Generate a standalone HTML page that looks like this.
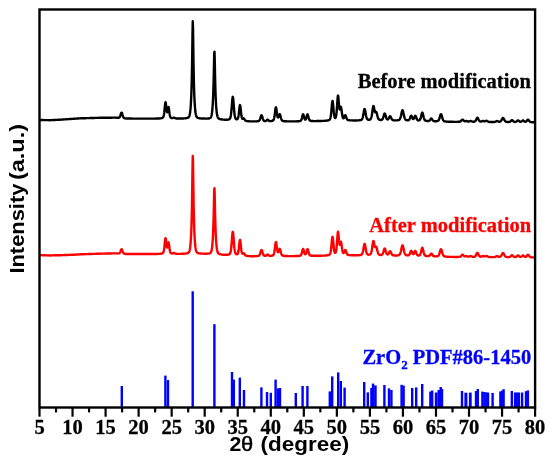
<!DOCTYPE html>
<html><head><meta charset="utf-8"><title>XRD</title>
<style>
html,body{margin:0;padding:0;background:#fff}
svg{display:block}
.tk{font-family:"Liberation Serif",serif;font-weight:bold;font-size:20.5px;stroke:#000;stroke-width:0.3px}
.lb{font-family:"Liberation Serif",serif;font-weight:bold;font-size:20.5px;stroke-width:0.3px}
.ax{font-family:"Liberation Sans",sans-serif;font-weight:bold}
</style></head><body>
<svg width="550" height="462" viewBox="0 0 550 462">
<rect width="550" height="462" fill="#fff"/>
<rect x="120.60" y="386.00" width="2.4" height="21.50" fill="#0000ff"/>
<rect x="164.20" y="375.60" width="2.4" height="31.90" fill="#0000ff"/>
<rect x="166.80" y="380.10" width="2.4" height="27.40" fill="#0000ff"/>
<rect x="191.50" y="291.30" width="2.4" height="116.20" fill="#0000ff"/>
<rect x="213.20" y="324.20" width="2.4" height="83.30" fill="#0000ff"/>
<rect x="230.80" y="372.00" width="2.4" height="35.50" fill="#0000ff"/>
<rect x="232.60" y="379.60" width="2.4" height="27.90" fill="#0000ff"/>
<rect x="238.60" y="377.60" width="2.4" height="29.90" fill="#0000ff"/>
<rect x="242.80" y="390.00" width="2.4" height="17.50" fill="#0000ff"/>
<rect x="260.20" y="387.40" width="2.4" height="20.10" fill="#0000ff"/>
<rect x="265.80" y="392.00" width="2.4" height="15.50" fill="#0000ff"/>
<rect x="269.60" y="392.80" width="2.4" height="14.70" fill="#0000ff"/>
<rect x="274.40" y="379.60" width="2.4" height="27.90" fill="#0000ff"/>
<rect x="276.80" y="388.40" width="2.4" height="19.10" fill="#0000ff"/>
<rect x="278.80" y="388.00" width="2.4" height="19.50" fill="#0000ff"/>
<rect x="294.60" y="393.00" width="2.4" height="14.50" fill="#0000ff"/>
<rect x="301.40" y="386.00" width="2.4" height="21.50" fill="#0000ff"/>
<rect x="306.20" y="386.00" width="2.4" height="21.50" fill="#0000ff"/>
<rect x="328.60" y="391.40" width="2.4" height="16.10" fill="#0000ff"/>
<rect x="331.00" y="376.40" width="2.4" height="31.10" fill="#0000ff"/>
<rect x="337.00" y="372.40" width="2.4" height="35.10" fill="#0000ff"/>
<rect x="339.60" y="381.00" width="2.4" height="26.50" fill="#0000ff"/>
<rect x="343.40" y="387.60" width="2.4" height="19.90" fill="#0000ff"/>
<rect x="363.00" y="382.00" width="2.4" height="25.50" fill="#0000ff"/>
<rect x="366.60" y="392.40" width="2.4" height="15.10" fill="#0000ff"/>
<rect x="370.20" y="388.00" width="2.4" height="19.50" fill="#0000ff"/>
<rect x="371.80" y="383.60" width="2.4" height="23.90" fill="#0000ff"/>
<rect x="374.10" y="385.40" width="2.6" height="22.10" fill="#0000ff"/>
<rect x="383.20" y="385.00" width="2.4" height="22.50" fill="#0000ff"/>
<rect x="387.80" y="388.40" width="2.4" height="19.10" fill="#0000ff"/>
<rect x="390.20" y="390.00" width="2.4" height="17.50" fill="#0000ff"/>
<rect x="400.40" y="384.80" width="2.4" height="22.70" fill="#0000ff"/>
<rect x="402.40" y="385.60" width="2.4" height="21.90" fill="#0000ff"/>
<rect x="411.00" y="388.00" width="2.4" height="19.50" fill="#0000ff"/>
<rect x="415.00" y="387.40" width="2.4" height="20.10" fill="#0000ff"/>
<rect x="421.00" y="384.00" width="2.4" height="23.50" fill="#0000ff"/>
<rect x="429.20" y="391.50" width="2.4" height="16.00" fill="#0000ff"/>
<rect x="431.00" y="390.60" width="2.4" height="16.90" fill="#0000ff"/>
<rect x="434.80" y="392.50" width="2.8" height="15.00" fill="#0000ff"/>
<rect x="437.50" y="390.00" width="2.6" height="17.50" fill="#0000ff"/>
<rect x="439.50" y="387.00" width="2.4" height="20.50" fill="#0000ff"/>
<rect x="441.20" y="389.00" width="2.0" height="18.50" fill="#0000ff"/>
<rect x="460.80" y="391.00" width="2.4" height="16.50" fill="#0000ff"/>
<rect x="464.40" y="392.70" width="3.0" height="14.80" fill="#0000ff"/>
<rect x="468.90" y="392.60" width="2.8" height="14.90" fill="#0000ff"/>
<rect x="474.80" y="391.00" width="2.4" height="16.50" fill="#0000ff"/>
<rect x="476.60" y="389.00" width="2.4" height="18.50" fill="#0000ff"/>
<rect x="481.20" y="391.60" width="2.4" height="15.90" fill="#0000ff"/>
<rect x="483.20" y="392.00" width="2.4" height="15.50" fill="#0000ff"/>
<rect x="485.20" y="392.40" width="2.4" height="15.10" fill="#0000ff"/>
<rect x="486.80" y="392.60" width="2.4" height="14.90" fill="#0000ff"/>
<rect x="491.40" y="393.00" width="2.4" height="14.50" fill="#0000ff"/>
<rect x="499.20" y="391.40" width="2.4" height="16.10" fill="#0000ff"/>
<rect x="501.00" y="390.60" width="2.4" height="16.90" fill="#0000ff"/>
<rect x="502.40" y="389.20" width="2.4" height="18.30" fill="#0000ff"/>
<rect x="510.60" y="391.00" width="2.4" height="16.50" fill="#0000ff"/>
<rect x="513.90" y="392.50" width="2.4" height="15.00" fill="#0000ff"/>
<rect x="515.80" y="392.50" width="2.4" height="15.00" fill="#0000ff"/>
<rect x="517.70" y="392.50" width="2.4" height="15.00" fill="#0000ff"/>
<rect x="520.90" y="392.50" width="2.4" height="15.00" fill="#0000ff"/>
<rect x="524.80" y="391.20" width="2.4" height="16.30" fill="#0000ff"/>
<rect x="526.70" y="390.40" width="2.4" height="17.10" fill="#0000ff"/>
<path d="M39.50,120.00 L39.75,120.00 L40.00,120.00 L40.25,120.01 L40.50,120.01 L40.75,120.02 L41.00,120.02 L41.25,120.03 L41.50,120.03 L41.75,120.04 L42.00,120.04 L42.25,120.05 L42.50,120.05 L42.75,120.06 L43.00,120.06 L43.25,120.07 L43.50,120.07 L43.75,120.08 L44.00,120.08 L44.25,120.09 L44.50,120.09 L44.75,120.10 L45.00,120.10 L45.25,120.10 L45.50,120.11 L45.75,120.11 L46.00,120.12 L46.25,120.12 L46.50,120.13 L46.75,120.13 L47.00,120.14 L47.25,120.14 L47.50,120.15 L47.75,120.15 L48.00,120.16 L48.25,120.16 L48.50,120.17 L48.75,120.17 L49.00,120.18 L49.25,120.18 L49.50,120.19 L49.75,120.19 L50.00,120.19 L50.25,120.18 L50.50,120.17 L50.75,120.16 L51.00,120.14 L51.25,120.13 L51.50,120.12 L51.75,120.11 L52.00,120.09 L52.25,120.08 L52.50,120.07 L52.75,120.06 L53.00,120.04 L53.25,120.03 L53.50,120.02 L53.75,120.01 L54.00,119.99 L54.25,119.98 L54.50,119.97 L54.75,119.96 L55.00,119.94 L55.25,119.93 L55.50,119.92 L55.75,119.91 L56.00,119.89 L56.25,119.88 L56.50,119.87 L56.75,119.86 L57.00,119.84 L57.25,119.83 L57.50,119.82 L57.75,119.81 L58.00,119.79 L58.25,119.78 L58.50,119.77 L58.75,119.76 L59.00,119.74 L59.25,119.73 L59.50,119.72 L59.75,119.71 L60.00,119.69 L60.25,119.68 L60.50,119.66 L60.75,119.64 L61.00,119.63 L61.25,119.61 L61.50,119.59 L61.75,119.58 L62.00,119.56 L62.25,119.54 L62.50,119.52 L62.75,119.51 L63.00,119.49 L63.25,119.47 L63.50,119.46 L63.75,119.44 L64.00,119.42 L64.25,119.41 L64.50,119.39 L64.75,119.37 L65.00,119.36 L65.25,119.34 L65.50,119.32 L65.75,119.31 L66.00,119.29 L66.25,119.27 L66.50,119.25 L66.75,119.24 L67.00,119.22 L67.25,119.20 L67.50,119.19 L67.75,119.17 L68.00,119.15 L68.25,119.14 L68.50,119.12 L68.75,119.10 L69.00,119.09 L69.25,119.07 L69.50,119.05 L69.75,119.03 L70.00,119.02 L70.25,119.00 L70.50,118.98 L70.75,118.97 L71.00,118.95 L71.25,118.93 L71.50,118.92 L71.75,118.90 L72.00,118.88 L72.25,118.87 L72.50,118.85 L72.75,118.83 L73.00,118.81 L73.25,118.80 L73.50,118.78 L73.75,118.76 L74.00,118.75 L74.25,118.73 L74.50,118.71 L74.75,118.70 L75.00,118.68 L75.25,118.66 L75.50,118.65 L75.75,118.63 L76.00,118.61 L76.25,118.59 L76.50,118.58 L76.75,118.56 L77.00,118.54 L77.25,118.53 L77.50,118.51 L77.75,118.49 L78.00,118.48 L78.25,118.46 L78.50,118.44 L78.75,118.43 L79.00,118.41 L79.25,118.39 L79.50,118.38 L79.75,118.36 L80.00,118.34 L80.25,118.33 L80.50,118.33 L80.75,118.32 L81.00,118.31 L81.25,118.31 L81.50,118.30 L81.75,118.29 L82.00,118.29 L82.25,118.28 L82.50,118.27 L82.75,118.27 L83.00,118.26 L83.25,118.25 L83.50,118.24 L83.75,118.24 L84.00,118.23 L84.25,118.22 L84.50,118.22 L84.75,118.21 L85.00,118.20 L85.25,118.20 L85.50,118.19 L85.75,118.18 L86.00,118.17 L86.25,118.17 L86.50,118.16 L86.75,118.15 L87.00,118.15 L87.25,118.14 L87.50,118.13 L87.75,118.13 L88.00,118.12 L88.25,118.11 L88.50,118.11 L88.75,118.10 L89.00,118.09 L89.25,118.08 L89.50,118.08 L89.75,118.07 L90.00,118.06 L90.25,118.06 L90.50,118.05 L90.75,118.04 L91.00,118.04 L91.25,118.03 L91.50,118.02 L91.75,118.01 L92.00,118.01 L92.25,118.00 L92.50,117.99 L92.75,117.99 L93.00,117.98 L93.25,117.97 L93.50,117.97 L93.75,117.96 L94.00,117.95 L94.25,117.95 L94.50,117.94 L94.75,117.93 L95.00,117.92 L95.25,117.92 L95.50,117.91 L95.75,117.90 L96.00,117.90 L96.25,117.89 L96.50,117.88 L96.75,117.88 L97.00,117.87 L97.25,117.86 L97.50,117.85 L97.75,117.85 L98.00,117.84 L98.25,117.83 L98.50,117.83 L98.75,117.82 L99.00,117.81 L99.25,117.80 L99.50,117.80 L99.75,117.79 L100.00,117.78 L100.25,117.78 L100.50,117.78 L100.75,117.78 L101.00,117.78 L101.25,117.77 L101.50,117.77 L101.75,117.77 L102.00,117.77 L102.25,117.77 L102.50,117.76 L102.75,117.76 L103.00,117.76 L103.25,117.76 L103.50,117.76 L103.75,117.76 L104.00,117.75 L104.25,117.75 L104.50,117.75 L104.75,117.75 L105.00,117.75 L105.25,117.74 L105.50,117.74 L105.75,117.74 L106.00,117.74 L106.25,117.73 L106.50,117.73 L106.75,117.73 L107.00,117.73 L107.25,117.73 L107.50,117.72 L107.75,117.72 L108.00,117.72 L108.25,117.72 L108.50,117.71 L108.75,117.71 L109.00,117.71 L109.25,117.71 L109.50,117.70 L109.75,117.70 L110.00,117.70 L110.25,117.70 L110.50,117.69 L110.75,117.69 L111.00,117.69 L111.25,117.69 L111.50,117.68 L111.75,117.68 L112.00,117.68 L112.25,117.67 L112.50,117.67 L112.75,117.67 L113.00,117.66 L113.25,117.66 L113.50,117.65 L113.75,117.65 L114.00,117.64 L114.25,117.64 L114.50,117.63 L114.75,117.63 L115.00,117.62 L115.25,117.64 L115.50,117.66 L115.75,117.67 L116.00,117.69 L116.25,117.70 L116.50,117.72 L116.75,117.73 L117.00,117.74 L117.25,117.75 L117.50,117.75 L117.75,117.75 L118.00,117.75 L118.25,117.74 L118.50,117.72 L118.75,117.68 L119.00,117.61 L119.25,117.49 L119.50,117.29 L119.75,116.99 L120.00,116.56 L120.25,115.98 L120.50,115.27 L120.75,114.47 L121.00,113.65 L121.25,112.97 L121.50,112.61 L121.75,112.67 L122.00,113.16 L122.25,113.93 L122.50,114.79 L122.75,115.63 L123.00,116.36 L123.25,116.95 L123.50,117.40 L123.75,117.72 L124.00,117.95 L124.25,118.10 L124.50,118.21 L124.75,118.29 L125.00,118.35 L125.25,118.38 L125.50,118.41 L125.75,118.43 L126.00,118.45 L126.25,118.46 L126.50,118.47 L126.75,118.48 L127.00,118.49 L127.25,118.50 L127.50,118.51 L127.75,118.52 L128.00,118.52 L128.25,118.53 L128.50,118.53 L128.75,118.54 L129.00,118.54 L129.25,118.54 L129.50,118.55 L129.75,118.55 L130.00,118.55 L130.25,118.56 L130.50,118.56 L130.75,118.56 L131.00,118.57 L131.25,118.57 L131.50,118.57 L131.75,118.57 L132.00,118.57 L132.25,118.58 L132.50,118.58 L132.75,118.58 L133.00,118.58 L133.25,118.58 L133.50,118.58 L133.75,118.58 L134.00,118.59 L134.25,118.59 L134.50,118.59 L134.75,118.59 L135.00,118.59 L135.25,118.59 L135.50,118.59 L135.75,118.59 L136.00,118.60 L136.25,118.60 L136.50,118.60 L136.75,118.60 L137.00,118.60 L137.25,118.60 L137.50,118.60 L137.75,118.60 L138.00,118.60 L138.25,118.60 L138.50,118.60 L138.75,118.60 L139.00,118.61 L139.25,118.61 L139.50,118.61 L139.75,118.61 L140.00,118.61 L140.25,118.61 L140.50,118.61 L140.75,118.61 L141.00,118.61 L141.25,118.61 L141.50,118.61 L141.75,118.61 L142.00,118.61 L142.25,118.61 L142.50,118.61 L142.75,118.61 L143.00,118.61 L143.25,118.61 L143.50,118.61 L143.75,118.62 L144.00,118.62 L144.25,118.62 L144.50,118.62 L144.75,118.62 L145.00,118.62 L145.25,118.62 L145.50,118.62 L145.75,118.62 L146.00,118.62 L146.25,118.62 L146.50,118.62 L146.75,118.62 L147.00,118.62 L147.25,118.62 L147.50,118.62 L147.75,118.62 L148.00,118.62 L148.25,118.62 L148.50,118.62 L148.75,118.62 L149.00,118.62 L149.25,118.62 L149.50,118.62 L149.75,118.62 L150.00,118.61 L150.25,118.61 L150.50,118.61 L150.75,118.61 L151.00,118.61 L151.25,118.61 L151.50,118.61 L151.75,118.61 L152.00,118.61 L152.25,118.61 L152.50,118.61 L152.75,118.60 L153.00,118.60 L153.25,118.60 L153.50,118.60 L153.75,118.60 L154.00,118.59 L154.25,118.59 L154.50,118.59 L154.75,118.59 L155.00,118.58 L155.25,118.58 L155.50,118.58 L155.75,118.57 L156.00,118.57 L156.25,118.56 L156.50,118.56 L156.75,118.55 L157.00,118.55 L157.25,118.54 L157.50,118.53 L157.75,118.53 L158.00,118.52 L158.25,118.51 L158.50,118.50 L158.75,118.49 L159.00,118.47 L159.25,118.46 L159.50,118.44 L159.75,118.42 L160.00,118.40 L160.25,118.38 L160.50,118.35 L160.75,118.32 L161.00,118.29 L161.25,118.25 L161.50,118.20 L161.75,118.14 L162.00,118.07 L162.25,117.98 L162.50,117.87 L162.75,117.70 L163.00,117.46 L163.25,117.07 L163.50,116.47 L163.75,115.55 L164.00,114.22 L164.25,112.40 L164.50,110.14 L164.75,107.57 L165.00,105.04 L165.25,103.07 L165.50,102.27 L165.75,102.93 L166.00,104.73 L166.25,107.04 L166.50,109.27 L166.75,111.00 L167.00,111.99 L167.25,112.15 L167.50,111.50 L167.75,110.23 L168.00,108.70 L168.25,107.41 L168.50,106.97 L168.75,107.67 L169.00,109.28 L169.25,111.24 L169.50,113.14 L169.75,114.74 L170.00,115.93 L170.25,116.76 L170.50,117.29 L170.75,117.62 L171.00,117.82 L171.25,117.95 L171.50,118.03 L171.75,118.08 L172.00,118.10 L172.25,118.10 L172.50,118.07 L172.75,118.02 L173.00,117.93 L173.25,117.83 L173.50,117.74 L173.75,117.67 L174.00,117.65 L174.25,117.70 L174.50,117.80 L174.75,117.93 L175.00,118.06 L175.25,118.18 L175.50,118.28 L175.75,118.36 L176.00,118.41 L176.25,118.45 L176.50,118.47 L176.75,118.49 L177.00,118.50 L177.25,118.51 L177.50,118.52 L177.75,118.52 L178.00,118.53 L178.25,118.53 L178.50,118.53 L178.75,118.53 L179.00,118.53 L179.25,118.53 L179.50,118.53 L179.75,118.53 L180.00,118.53 L180.25,118.53 L180.50,118.52 L180.75,118.52 L181.00,118.51 L181.25,118.51 L181.50,118.50 L181.75,118.50 L182.00,118.49 L182.25,118.48 L182.50,118.47 L182.75,118.46 L183.00,118.45 L183.25,118.44 L183.50,118.43 L183.75,118.41 L184.00,118.40 L184.25,118.38 L184.50,118.36 L184.75,118.34 L185.00,118.32 L185.25,118.29 L185.50,118.26 L185.75,118.23 L186.00,118.20 L186.25,118.16 L186.50,118.12 L186.75,118.07 L187.00,118.01 L187.25,117.94 L187.50,117.87 L187.75,117.78 L188.00,117.66 L188.25,117.52 L188.50,117.34 L188.75,117.09 L189.00,116.75 L189.25,116.26 L189.50,115.57 L189.75,114.60 L190.00,113.23 L190.25,111.37 L190.50,108.89 L190.75,105.67 L191.00,101.55 L191.25,96.33 L191.50,89.60 L191.75,80.65 L192.00,68.47 L192.25,52.22 L192.50,33.45 L192.75,21.21 L193.00,26.96 L193.25,44.74 L193.50,62.48 L193.75,76.24 L194.00,86.35 L194.25,93.87 L194.50,99.63 L194.75,104.16 L195.00,107.73 L195.25,110.49 L195.50,112.59 L195.75,114.14 L196.00,115.26 L196.25,116.06 L196.50,116.62 L196.75,117.02 L197.00,117.30 L197.25,117.51 L197.50,117.67 L197.75,117.80 L198.00,117.90 L198.25,117.98 L198.50,118.05 L198.75,118.12 L199.00,118.17 L199.25,118.22 L199.50,118.26 L199.75,118.30 L200.00,118.34 L200.25,118.37 L200.50,118.39 L200.75,118.42 L201.00,118.44 L201.25,118.46 L201.50,118.48 L201.75,118.49 L202.00,118.51 L202.25,118.52 L202.50,118.53 L202.75,118.54 L203.00,118.55 L203.25,118.55 L203.50,118.56 L203.75,118.56 L204.00,118.56 L204.25,118.57 L204.50,118.57 L204.75,118.57 L205.00,118.56 L205.25,118.57 L205.50,118.58 L205.75,118.58 L206.00,118.59 L206.25,118.59 L206.50,118.59 L206.75,118.59 L207.00,118.58 L207.25,118.58 L207.50,118.57 L207.75,118.55 L208.00,118.54 L208.25,118.51 L208.50,118.49 L208.75,118.45 L209.00,118.41 L209.25,118.36 L209.50,118.29 L209.75,118.20 L210.00,118.09 L210.25,117.93 L210.50,117.72 L210.75,117.41 L211.00,116.98 L211.25,116.35 L211.50,115.48 L211.75,114.27 L212.00,112.65 L212.25,110.51 L212.50,107.75 L212.75,104.21 L213.00,99.67 L213.25,93.72 L213.50,85.84 L213.75,75.54 L214.00,63.27 L214.25,52.82 L214.50,51.64 L214.75,60.87 L215.00,73.27 L215.25,84.09 L215.50,92.45 L215.75,98.77 L216.00,103.59 L216.25,107.33 L216.50,110.26 L216.75,112.55 L217.00,114.30 L217.25,115.61 L217.50,116.57 L217.75,117.27 L218.00,117.77 L218.25,118.12 L218.50,118.39 L218.75,118.58 L219.00,118.73 L219.25,118.85 L219.50,118.95 L219.75,119.03 L220.00,119.11 L220.25,119.17 L220.50,119.23 L220.75,119.28 L221.00,119.33 L221.25,119.38 L221.50,119.42 L221.75,119.45 L222.00,119.49 L222.25,119.52 L222.50,119.55 L222.75,119.57 L223.00,119.60 L223.25,119.62 L223.50,119.64 L223.75,119.66 L224.00,119.67 L224.25,119.69 L224.50,119.70 L224.75,119.71 L225.00,119.72 L225.25,119.73 L225.50,119.74 L225.75,119.74 L226.00,119.74 L226.25,119.74 L226.50,119.73 L226.75,119.72 L227.00,119.71 L227.25,119.69 L227.50,119.67 L227.75,119.64 L228.00,119.61 L228.25,119.56 L228.50,119.51 L228.75,119.44 L229.00,119.35 L229.25,119.23 L229.50,119.07 L229.75,118.83 L230.00,118.48 L230.25,117.94 L230.50,117.15 L230.75,116.00 L231.00,114.41 L231.25,112.30 L231.50,109.68 L231.75,106.64 L232.00,103.40 L232.25,100.32 L232.50,97.94 L232.75,96.83 L233.00,97.32 L233.25,99.27 L233.50,102.15 L233.75,105.40 L234.00,108.56 L234.25,111.37 L234.50,113.70 L234.75,115.49 L235.00,116.81 L235.25,117.73 L235.50,118.35 L235.75,118.76 L236.00,119.02 L236.25,119.18 L236.50,119.28 L236.75,119.32 L237.00,119.30 L237.25,119.21 L237.50,119.02 L237.75,118.67 L238.00,118.09 L238.25,117.20 L238.50,115.90 L238.75,114.17 L239.00,112.04 L239.25,109.68 L239.50,107.40 L239.75,105.68 L240.00,105.04 L240.25,105.73 L240.50,107.49 L240.75,109.81 L241.00,112.20 L241.25,114.35 L241.50,116.08 L241.75,117.35 L242.00,118.17 L242.25,118.62 L242.50,118.78 L242.75,118.74 L243.00,118.58 L243.25,118.40 L243.50,118.27 L243.75,118.30 L244.00,118.51 L244.25,118.85 L244.50,119.26 L244.75,119.66 L245.00,120.01 L245.25,120.30 L245.50,120.53 L245.75,120.69 L246.00,120.81 L246.25,120.90 L246.50,120.97 L246.75,121.02 L247.00,121.06 L247.25,121.10 L247.50,121.13 L247.75,121.16 L248.00,121.19 L248.25,121.22 L248.50,121.25 L248.75,121.27 L249.00,121.29 L249.25,121.32 L249.50,121.34 L249.75,121.36 L250.00,121.38 L250.25,121.38 L250.50,121.39 L250.75,121.39 L251.00,121.39 L251.25,121.40 L251.50,121.40 L251.75,121.40 L252.00,121.40 L252.25,121.40 L252.50,121.40 L252.75,121.40 L253.00,121.40 L253.25,121.40 L253.50,121.40 L253.75,121.40 L254.00,121.40 L254.25,121.39 L254.50,121.39 L254.75,121.39 L255.00,121.38 L255.25,121.37 L255.50,121.37 L255.75,121.36 L256.00,121.35 L256.25,121.34 L256.50,121.33 L256.75,121.32 L257.00,121.30 L257.25,121.28 L257.50,121.26 L257.75,121.23 L258.00,121.19 L258.25,121.14 L258.50,121.07 L258.75,120.96 L259.00,120.80 L259.25,120.57 L259.50,120.23 L259.75,119.78 L260.00,119.18 L260.25,118.46 L260.50,117.62 L260.75,116.75 L261.00,115.95 L261.25,115.37 L261.50,115.15 L261.75,115.36 L262.00,115.94 L262.25,116.73 L262.50,117.60 L262.75,118.43 L263.00,119.15 L263.25,119.74 L263.50,120.18 L263.75,120.51 L264.00,120.73 L264.25,120.88 L264.50,120.97 L264.75,121.03 L265.00,121.05 L265.25,121.05 L265.50,121.02 L265.75,120.95 L266.00,120.85 L266.25,120.70 L266.50,120.50 L266.75,120.27 L267.00,120.03 L267.25,119.82 L267.50,119.70 L267.75,119.72 L268.00,119.86 L268.25,120.07 L268.50,120.32 L268.75,120.55 L269.00,120.74 L269.25,120.88 L269.50,120.99 L269.75,121.05 L270.00,121.09 L270.25,121.10 L270.50,121.11 L270.75,121.10 L271.00,121.08 L271.25,121.06 L271.50,121.03 L271.75,120.99 L272.00,120.95 L272.25,120.89 L272.50,120.81 L272.75,120.71 L273.00,120.57 L273.25,120.35 L273.50,120.02 L273.75,119.51 L274.00,118.77 L274.25,117.72 L274.50,116.31 L274.75,114.56 L275.00,112.54 L275.25,110.45 L275.50,108.61 L275.75,107.44 L276.00,107.29 L276.25,108.21 L276.50,109.87 L276.75,111.84 L277.00,113.75 L277.25,115.36 L277.50,116.55 L277.75,117.27 L278.00,117.52 L278.25,117.37 L278.50,116.89 L278.75,116.19 L279.00,115.38 L279.25,114.63 L279.50,114.13 L279.75,114.05 L280.00,114.43 L280.25,115.18 L280.50,116.13 L280.75,117.13 L281.00,118.06 L281.25,118.86 L281.50,119.51 L281.75,120.00 L282.00,120.36 L282.25,120.61 L282.50,120.78 L282.75,120.90 L283.00,120.99 L283.25,121.05 L283.50,121.10 L283.75,121.13 L284.00,121.16 L284.25,121.19 L284.50,121.21 L284.75,121.23 L285.00,121.25 L285.25,121.26 L285.50,121.28 L285.75,121.29 L286.00,121.30 L286.25,121.31 L286.50,121.32 L286.75,121.33 L287.00,121.33 L287.25,121.34 L287.50,121.34 L287.75,121.35 L288.00,121.35 L288.25,121.36 L288.50,121.36 L288.75,121.36 L289.00,121.37 L289.25,121.37 L289.50,121.37 L289.75,121.37 L290.00,121.38 L290.25,121.38 L290.50,121.38 L290.75,121.38 L291.00,121.38 L291.25,121.38 L291.50,121.38 L291.75,121.38 L292.00,121.38 L292.25,121.38 L292.50,121.38 L292.75,121.38 L293.00,121.38 L293.25,121.38 L293.50,121.37 L293.75,121.37 L294.00,121.37 L294.25,121.37 L294.50,121.37 L294.75,121.36 L295.00,121.36 L295.25,121.36 L295.50,121.35 L295.75,121.35 L296.00,121.34 L296.25,121.34 L296.50,121.33 L296.75,121.32 L297.00,121.31 L297.25,121.30 L297.50,121.29 L297.75,121.28 L298.00,121.27 L298.25,121.25 L298.50,121.24 L298.75,121.22 L299.00,121.19 L299.25,121.17 L299.50,121.13 L299.75,121.09 L300.00,121.03 L300.25,120.95 L300.50,120.82 L300.75,120.64 L301.00,120.36 L301.25,119.95 L301.50,119.39 L301.75,118.64 L302.00,117.73 L302.25,116.69 L302.50,115.65 L302.75,114.77 L303.00,114.27 L303.25,114.31 L303.50,114.86 L303.75,115.74 L304.00,116.74 L304.25,117.69 L304.50,118.50 L304.75,119.10 L305.00,119.49 L305.25,119.65 L305.50,119.58 L305.75,119.30 L306.00,118.79 L306.25,118.08 L306.50,117.19 L306.75,116.22 L307.00,115.29 L307.25,114.60 L307.50,114.34 L307.75,114.62 L308.00,115.35 L308.25,116.31 L308.50,117.32 L308.75,118.26 L309.00,119.05 L309.25,119.66 L309.50,120.10 L309.75,120.41 L310.00,120.61 L310.25,120.75 L310.50,120.84 L310.75,120.89 L311.00,120.94 L311.25,120.97 L311.50,120.99 L311.75,121.01 L312.00,121.03 L312.25,121.04 L312.50,121.05 L312.75,121.06 L313.00,121.07 L313.25,121.07 L313.50,121.07 L313.75,121.08 L314.00,121.08 L314.25,121.08 L314.50,121.08 L314.75,121.08 L315.00,121.08 L315.25,121.08 L315.50,121.08 L315.75,121.08 L316.00,121.08 L316.25,121.07 L316.50,121.07 L316.75,121.07 L317.00,121.06 L317.25,121.06 L317.50,121.06 L317.75,121.05 L318.00,121.05 L318.25,121.04 L318.50,121.04 L318.75,121.03 L319.00,121.03 L319.25,121.02 L319.50,121.02 L319.75,121.01 L320.00,121.00 L320.25,121.00 L320.50,120.99 L320.75,120.98 L321.00,120.97 L321.25,120.97 L321.50,120.96 L321.75,120.95 L322.00,120.94 L322.25,120.93 L322.50,120.92 L322.75,120.91 L323.00,120.90 L323.25,120.89 L323.50,120.88 L323.75,120.86 L324.00,120.85 L324.25,120.84 L324.50,120.82 L324.75,120.80 L325.00,120.79 L325.25,120.77 L325.50,120.75 L325.75,120.73 L326.00,120.70 L326.25,120.68 L326.50,120.65 L326.75,120.62 L327.00,120.58 L327.25,120.54 L327.50,120.50 L327.75,120.45 L328.00,120.40 L328.25,120.34 L328.50,120.26 L328.75,120.18 L329.00,120.07 L329.25,119.93 L329.50,119.74 L329.75,119.48 L330.00,119.08 L330.25,118.47 L330.50,117.58 L330.75,116.28 L331.00,114.52 L331.25,112.25 L331.50,109.56 L331.75,106.64 L332.00,103.87 L332.25,101.79 L332.50,100.98 L332.75,101.71 L333.00,103.70 L333.25,106.39 L333.50,109.22 L333.75,111.81 L334.00,113.97 L334.25,115.61 L334.50,116.76 L334.75,117.49 L335.00,117.87 L335.25,117.96 L335.50,117.77 L335.75,117.28 L336.00,116.38 L336.25,114.97 L336.50,112.92 L336.75,110.19 L337.00,106.83 L337.25,103.11 L337.50,99.49 L337.75,96.71 L338.00,95.57 L338.25,96.43 L338.50,98.87 L338.75,102.02 L339.00,105.09 L339.25,107.52 L339.50,109.03 L339.75,109.56 L340.00,109.25 L340.25,108.39 L340.50,107.40 L340.75,106.79 L341.00,106.95 L341.25,107.98 L341.50,109.64 L341.75,111.56 L342.00,113.43 L342.25,115.07 L342.50,116.38 L342.75,117.33 L343.00,117.95 L343.25,118.26 L343.50,118.30 L343.75,118.12 L344.00,117.73 L344.25,117.18 L344.50,116.53 L344.75,115.88 L345.00,115.37 L345.25,115.15 L345.50,115.31 L345.75,115.81 L346.00,116.52 L346.25,117.29 L346.50,118.02 L346.75,118.64 L347.00,119.13 L347.25,119.49 L347.50,119.75 L347.75,119.93 L348.00,120.04 L348.25,120.12 L348.50,120.18 L348.75,120.22 L349.00,120.25 L349.25,120.28 L349.50,120.30 L349.75,120.31 L350.00,120.33 L350.25,120.34 L350.50,120.36 L350.75,120.37 L351.00,120.38 L351.25,120.39 L351.50,120.40 L351.75,120.41 L352.00,120.42 L352.25,120.42 L352.50,120.43 L352.75,120.43 L353.00,120.44 L353.25,120.44 L353.50,120.45 L353.75,120.45 L354.00,120.45 L354.25,120.45 L354.50,120.45 L354.75,120.45 L355.00,120.45 L355.25,120.45 L355.50,120.45 L355.75,120.45 L356.00,120.44 L356.25,120.44 L356.50,120.43 L356.75,120.43 L357.00,120.42 L357.25,120.42 L357.50,120.41 L357.75,120.40 L358.00,120.39 L358.25,120.38 L358.50,120.36 L358.75,120.35 L359.00,120.33 L359.25,120.31 L359.50,120.28 L359.75,120.25 L360.00,120.22 L360.25,120.18 L360.50,120.14 L360.75,120.08 L361.00,120.00 L361.25,119.89 L361.50,119.75 L361.75,119.53 L362.00,119.23 L362.25,118.79 L362.50,118.18 L362.75,117.37 L363.00,116.35 L363.25,115.11 L363.50,113.69 L363.75,112.21 L364.00,110.80 L364.25,109.67 L364.50,109.06 L364.75,109.12 L365.00,109.84 L365.25,111.03 L365.50,112.45 L365.75,113.92 L366.00,115.29 L366.25,116.47 L366.50,117.44 L366.75,118.18 L367.00,118.73 L367.25,119.12 L367.50,119.38 L367.75,119.55 L368.00,119.66 L368.25,119.72 L368.50,119.76 L368.75,119.77 L369.00,119.77 L369.25,119.74 L369.50,119.70 L369.75,119.64 L370.00,119.53 L370.25,119.38 L370.50,119.15 L370.75,118.81 L371.00,118.31 L371.25,117.62 L371.50,116.69 L371.75,115.49 L372.00,114.02 L372.25,112.32 L372.50,110.50 L372.75,108.71 L373.00,107.20 L373.25,106.25 L373.50,106.05 L373.75,106.61 L374.00,107.72 L374.25,109.07 L374.50,110.37 L374.75,111.41 L375.00,112.08 L375.25,112.36 L375.50,112.30 L375.75,112.06 L376.00,111.83 L376.25,111.84 L376.50,112.25 L376.75,113.05 L377.00,114.08 L377.25,115.20 L377.50,116.28 L377.75,117.22 L378.00,118.00 L378.25,118.61 L378.50,119.06 L378.75,119.37 L379.00,119.59 L379.25,119.74 L379.50,119.84 L379.75,119.91 L380.00,119.95 L380.25,119.98 L380.50,120.00 L380.75,120.00 L381.00,119.99 L381.25,119.96 L381.50,119.90 L381.75,119.81 L382.00,119.67 L382.25,119.45 L382.50,119.14 L382.75,118.71 L383.00,118.15 L383.25,117.46 L383.50,116.65 L383.75,115.76 L384.00,114.87 L384.25,114.11 L384.50,113.60 L384.75,113.47 L385.00,113.76 L385.25,114.38 L385.50,115.21 L385.75,116.10 L386.00,116.96 L386.25,117.72 L386.50,118.35 L386.75,118.83 L387.00,119.16 L387.25,119.37 L387.50,119.46 L387.75,119.44 L388.00,119.31 L388.25,119.08 L388.50,118.75 L388.75,118.32 L389.00,117.83 L389.25,117.30 L389.50,116.79 L389.75,116.39 L390.00,116.18 L390.25,116.22 L390.50,116.50 L390.75,116.96 L391.00,117.51 L391.25,118.07 L391.50,118.59 L391.75,119.04 L392.00,119.41 L392.25,119.70 L392.50,119.91 L392.75,120.06 L393.00,120.17 L393.25,120.24 L393.50,120.29 L393.75,120.33 L394.00,120.35 L394.25,120.37 L394.50,120.38 L394.75,120.39 L395.00,120.40 L395.25,120.40 L395.50,120.40 L395.75,120.40 L396.00,120.39 L396.25,120.38 L396.50,120.37 L396.75,120.36 L397.00,120.34 L397.25,120.32 L397.50,120.30 L397.75,120.27 L398.00,120.23 L398.25,120.18 L398.50,120.12 L398.75,120.03 L399.00,119.91 L399.25,119.74 L399.50,119.51 L399.75,119.19 L400.00,118.76 L400.25,118.20 L400.50,117.49 L400.75,116.62 L401.00,115.60 L401.25,114.47 L401.50,113.28 L401.75,112.12 L402.00,111.13 L402.25,110.45 L402.50,110.21 L402.75,110.46 L403.00,111.15 L403.25,112.15 L403.50,113.31 L403.75,114.50 L404.00,115.64 L404.25,116.67 L404.50,117.54 L404.75,118.26 L405.00,118.83 L405.25,119.26 L405.50,119.58 L405.75,119.81 L406.00,119.97 L406.25,120.09 L406.50,120.17 L406.75,120.23 L407.00,120.27 L407.25,120.30 L407.50,120.31 L407.75,120.31 L408.00,120.29 L408.25,120.26 L408.50,120.18 L408.75,120.07 L409.00,119.88 L409.25,119.62 L409.50,119.24 L409.75,118.76 L410.00,118.17 L410.25,117.50 L410.50,116.82 L410.75,116.21 L411.00,115.79 L411.25,115.68 L411.50,115.91 L411.75,116.39 L412.00,117.02 L412.25,117.66 L412.50,118.24 L412.75,118.69 L413.00,118.97 L413.25,119.07 L413.50,118.98 L413.75,118.71 L414.00,118.27 L414.25,117.71 L414.50,117.07 L414.75,116.46 L415.00,115.98 L415.25,115.77 L415.50,115.89 L415.75,116.31 L416.00,116.93 L416.25,117.63 L416.50,118.30 L416.75,118.90 L417.00,119.39 L417.25,119.77 L417.50,120.04 L417.75,120.23 L418.00,120.34 L418.25,120.41 L418.50,120.44 L418.75,120.43 L419.00,120.39 L419.25,120.30 L419.50,120.16 L419.75,119.94 L420.00,119.62 L420.25,119.17 L420.50,118.56 L420.75,117.78 L421.00,116.86 L421.25,115.81 L421.50,114.73 L421.75,113.73 L422.00,112.98 L422.25,112.63 L422.50,112.80 L422.75,113.42 L423.00,114.37 L423.25,115.45 L423.50,116.54 L423.75,117.55 L424.00,118.41 L424.25,119.10 L424.50,119.64 L424.75,120.04 L425.00,120.32 L425.25,120.52 L425.50,120.66 L425.75,120.76 L426.00,120.83 L426.25,120.88 L426.50,120.92 L426.75,120.95 L427.00,120.97 L427.25,120.99 L427.50,121.01 L427.75,121.01 L428.00,121.01 L428.25,121.00 L428.50,120.97 L428.75,120.92 L429.00,120.84 L429.25,120.72 L429.50,120.54 L429.75,120.30 L430.00,120.00 L430.25,119.65 L430.50,119.27 L430.75,118.91 L431.00,118.64 L431.25,118.51 L431.50,118.58 L431.75,118.81 L432.00,119.16 L432.25,119.55 L432.50,119.93 L432.75,120.27 L433.00,120.55 L433.25,120.77 L433.50,120.93 L433.75,121.04 L434.00,121.11 L434.25,121.16 L434.50,121.20 L434.75,121.22 L435.00,121.23 L435.25,121.24 L435.50,121.25 L435.75,121.25 L436.00,121.24 L436.25,121.23 L436.50,121.22 L436.75,121.20 L437.00,121.17 L437.25,121.13 L437.50,121.07 L437.75,120.98 L438.00,120.85 L438.25,120.67 L438.50,120.40 L438.75,120.04 L439.00,119.57 L439.25,118.97 L439.50,118.24 L439.75,117.41 L440.00,116.52 L440.25,115.64 L440.50,114.86 L440.75,114.32 L441.00,114.13 L441.25,114.34 L441.50,114.89 L441.75,115.68 L442.00,116.58 L442.25,117.48 L442.50,118.33 L442.75,119.07 L443.00,119.68 L443.25,120.17 L443.50,120.54 L443.75,120.82 L444.00,121.02 L444.25,121.17 L444.50,121.27 L444.75,121.35 L445.00,121.41 L445.25,121.45 L445.50,121.49 L445.75,121.52 L446.00,121.55 L446.25,121.57 L446.50,121.59 L446.75,121.61 L447.00,121.63 L447.25,121.65 L447.50,121.67 L447.75,121.68 L448.00,121.69 L448.25,121.71 L448.50,121.72 L448.75,121.73 L449.00,121.74 L449.25,121.75 L449.50,121.76 L449.75,121.77 L450.00,121.78 L450.25,121.79 L450.50,121.79 L450.75,121.79 L451.00,121.80 L451.25,121.80 L451.50,121.81 L451.75,121.81 L452.00,121.81 L452.25,121.81 L452.50,121.82 L452.75,121.82 L453.00,121.82 L453.25,121.82 L453.50,121.83 L453.75,121.83 L454.00,121.83 L454.25,121.83 L454.50,121.83 L454.75,121.83 L455.00,121.83 L455.25,121.83 L455.50,121.83 L455.75,121.83 L456.00,121.83 L456.25,121.83 L456.50,121.83 L456.75,121.83 L457.00,121.83 L457.25,121.83 L457.50,121.82 L457.75,121.82 L458.00,121.81 L458.25,121.81 L458.50,121.80 L458.75,121.79 L459.00,121.77 L459.25,121.75 L459.50,121.71 L459.75,121.67 L460.00,121.60 L460.25,121.50 L460.50,121.36 L460.75,121.18 L461.00,120.96 L461.25,120.70 L461.50,120.41 L461.75,120.11 L462.00,119.84 L462.25,119.65 L462.50,119.58 L462.75,119.65 L463.00,119.83 L463.25,120.08 L463.50,120.36 L463.75,120.63 L464.00,120.86 L464.25,121.04 L464.50,121.16 L464.75,121.22 L465.00,121.23 L465.25,121.20 L465.50,121.14 L465.75,121.08 L466.00,121.03 L466.25,121.01 L466.50,121.04 L466.75,121.10 L467.00,121.19 L467.25,121.29 L467.50,121.39 L467.75,121.47 L468.00,121.53 L468.25,121.56 L468.50,121.57 L468.75,121.55 L469.00,121.50 L469.25,121.42 L469.50,121.32 L469.75,121.22 L470.00,121.11 L470.25,121.03 L470.50,120.98 L470.75,120.99 L471.00,121.05 L471.25,121.14 L471.50,121.25 L471.75,121.36 L472.00,121.47 L472.25,121.56 L472.50,121.63 L472.75,121.68 L473.00,121.71 L473.25,121.73 L473.50,121.73 L473.75,121.72 L474.00,121.70 L474.25,121.66 L474.50,121.59 L474.75,121.49 L475.00,121.34 L475.25,121.14 L475.50,120.85 L475.75,120.49 L476.00,120.05 L476.25,119.53 L476.50,118.98 L476.75,118.45 L477.00,118.00 L477.25,117.73 L477.50,117.71 L477.75,117.93 L478.00,118.35 L478.25,118.88 L478.50,119.43 L478.75,119.95 L479.00,120.41 L479.25,120.79 L479.50,121.08 L479.75,121.30 L480.00,121.45 L480.25,121.54 L480.50,121.59 L480.75,121.60 L481.00,121.58 L481.25,121.53 L481.50,121.46 L481.75,121.36 L482.00,121.24 L482.25,121.13 L482.50,121.02 L482.75,120.94 L483.00,120.91 L483.25,120.94 L483.50,121.01 L483.75,121.10 L484.00,121.20 L484.25,121.28 L484.50,121.33 L484.75,121.34 L485.00,121.30 L485.25,121.23 L485.50,121.13 L485.75,121.01 L486.00,120.89 L486.25,120.81 L486.50,120.79 L486.75,120.84 L487.00,120.94 L487.25,121.09 L487.50,121.25 L487.75,121.40 L488.00,121.54 L488.25,121.66 L488.50,121.76 L488.75,121.84 L489.00,121.89 L489.25,121.93 L489.50,121.96 L489.75,121.98 L490.00,121.99 L490.25,122.00 L490.50,122.01 L490.75,122.01 L491.00,122.02 L491.25,122.02 L491.50,122.03 L491.75,122.03 L492.00,122.03 L492.25,122.03 L492.50,122.03 L492.75,122.03 L493.00,122.03 L493.25,122.02 L493.50,122.02 L493.75,122.01 L494.00,121.99 L494.25,121.97 L494.50,121.94 L494.75,121.90 L495.00,121.84 L495.25,121.76 L495.50,121.66 L495.75,121.54 L496.00,121.42 L496.25,121.28 L496.50,121.17 L496.75,121.08 L497.00,121.05 L497.25,121.07 L497.50,121.14 L497.75,121.25 L498.00,121.37 L498.25,121.48 L498.50,121.58 L498.75,121.66 L499.00,121.71 L499.25,121.74 L499.50,121.73 L499.75,121.70 L500.00,121.62 L500.25,121.51 L500.50,121.35 L500.75,121.13 L501.00,120.85 L501.25,120.51 L501.50,120.10 L501.75,119.65 L502.00,119.18 L502.25,118.72 L502.50,118.32 L502.75,118.05 L503.00,117.95 L503.25,118.05 L503.50,118.33 L503.75,118.73 L504.00,119.19 L504.25,119.67 L504.50,120.13 L504.75,120.54 L505.00,120.89 L505.25,121.17 L505.50,121.40 L505.75,121.57 L506.00,121.70 L506.25,121.79 L506.50,121.86 L506.75,121.90 L507.00,121.94 L507.25,121.96 L507.50,121.98 L507.75,121.99 L508.00,121.99 L508.25,122.00 L508.50,121.99 L508.75,121.98 L509.00,121.96 L509.25,121.92 L509.50,121.87 L509.75,121.79 L510.00,121.68 L510.25,121.53 L510.50,121.34 L510.75,121.11 L511.00,120.86 L511.25,120.61 L511.50,120.38 L511.75,120.22 L512.00,120.16 L512.25,120.22 L512.50,120.38 L512.75,120.61 L513.00,120.87 L513.25,121.12 L513.50,121.34 L513.75,121.53 L514.00,121.68 L514.25,121.79 L514.50,121.87 L514.75,121.91 L515.00,121.93 L515.25,121.92 L515.50,121.89 L515.75,121.82 L516.00,121.73 L516.25,121.60 L516.50,121.43 L516.75,121.23 L517.00,121.01 L517.25,120.78 L517.50,120.58 L517.75,120.43 L518.00,120.38 L518.25,120.43 L518.50,120.58 L518.75,120.78 L519.00,121.00 L519.25,121.22 L519.50,121.42 L519.75,121.58 L520.00,121.69 L520.25,121.76 L520.50,121.78 L520.75,121.76 L521.00,121.69 L521.25,121.58 L521.50,121.43 L521.75,121.23 L522.00,121.02 L522.25,120.79 L522.50,120.59 L522.75,120.44 L523.00,120.39 L523.25,120.44 L523.50,120.59 L523.75,120.79 L524.00,121.02 L524.25,121.23 L524.50,121.42 L524.75,121.57 L525.00,121.68 L525.25,121.73 L525.50,121.74 L525.75,121.68 L526.00,121.57 L526.25,121.40 L526.50,121.17 L526.75,120.89 L527.00,120.57 L527.25,120.25 L527.50,119.96 L527.75,119.75 L528.00,119.68 L528.25,119.77 L528.50,119.99 L528.75,120.29 L529.00,120.63 L529.25,120.96 L529.50,121.26 L529.75,121.52 L530.00,121.72 L530.25,121.88 L530.50,121.99 L530.75,122.08 L531.00,122.14 L531.25,122.18 L531.50,122.21 L531.75,122.23 L532.00,122.25 L532.25,122.26 L532.50,122.27 L532.75,122.28 L533.00,122.29 L533.25,122.30 L533.50,122.31 L533.75,122.31 L534.00,122.32 L534.25,122.33 L534.50,122.33 L534.75,122.34 L535.00,122.34" fill="none" stroke="#000" stroke-width="2.4" stroke-linejoin="round"/>
<path d="M39.50,255.10 L39.75,255.10 L40.00,255.11 L40.25,255.12 L40.50,255.13 L40.75,255.14 L41.00,255.15 L41.25,255.16 L41.50,255.17 L41.75,255.17 L42.00,255.18 L42.25,255.19 L42.50,255.20 L42.75,255.21 L43.00,255.22 L43.25,255.23 L43.50,255.24 L43.75,255.24 L44.00,255.25 L44.25,255.26 L44.50,255.27 L44.75,255.28 L45.00,255.29 L45.25,255.30 L45.50,255.31 L45.75,255.31 L46.00,255.32 L46.25,255.33 L46.50,255.34 L46.75,255.35 L47.00,255.36 L47.25,255.37 L47.50,255.38 L47.75,255.39 L48.00,255.39 L48.25,255.40 L48.50,255.41 L48.75,255.42 L49.00,255.43 L49.25,255.44 L49.50,255.45 L49.75,255.46 L50.00,255.46 L50.25,255.46 L50.50,255.45 L50.75,255.44 L51.00,255.43 L51.25,255.42 L51.50,255.41 L51.75,255.40 L52.00,255.40 L52.25,255.39 L52.50,255.38 L52.75,255.37 L53.00,255.36 L53.25,255.35 L53.50,255.35 L53.75,255.34 L54.00,255.33 L54.25,255.32 L54.50,255.31 L54.75,255.30 L55.00,255.29 L55.25,255.29 L55.50,255.29 L55.75,255.28 L56.00,255.28 L56.25,255.27 L56.50,255.27 L56.75,255.26 L57.00,255.26 L57.25,255.25 L57.50,255.25 L57.75,255.25 L58.00,255.24 L58.25,255.24 L58.50,255.23 L58.75,255.23 L59.00,255.22 L59.25,255.22 L59.50,255.22 L59.75,255.21 L60.00,255.21 L60.25,255.20 L60.50,255.19 L60.75,255.18 L61.00,255.17 L61.25,255.16 L61.50,255.15 L61.75,255.15 L62.00,255.14 L62.25,255.13 L62.50,255.12 L62.75,255.11 L63.00,255.10 L63.25,255.09 L63.50,255.08 L63.75,255.07 L64.00,255.07 L64.25,255.06 L64.50,255.05 L64.75,255.04 L65.00,255.03 L65.25,255.02 L65.50,255.01 L65.75,255.00 L66.00,255.00 L66.25,254.99 L66.50,254.98 L66.75,254.97 L67.00,254.96 L67.25,254.95 L67.50,254.94 L67.75,254.93 L68.00,254.93 L68.25,254.92 L68.50,254.91 L68.75,254.90 L69.00,254.89 L69.25,254.88 L69.50,254.87 L69.75,254.86 L70.00,254.86 L70.25,254.85 L70.50,254.84 L70.75,254.83 L71.00,254.82 L71.25,254.81 L71.50,254.80 L71.75,254.79 L72.00,254.79 L72.25,254.78 L72.50,254.77 L72.75,254.76 L73.00,254.75 L73.25,254.74 L73.50,254.73 L73.75,254.72 L74.00,254.71 L74.25,254.71 L74.50,254.70 L74.75,254.69 L75.00,254.68 L75.25,254.66 L75.50,254.64 L75.75,254.63 L76.00,254.61 L76.25,254.59 L76.50,254.57 L76.75,254.55 L77.00,254.54 L77.25,254.52 L77.50,254.50 L77.75,254.48 L78.00,254.46 L78.25,254.45 L78.50,254.43 L78.75,254.41 L79.00,254.39 L79.25,254.38 L79.50,254.36 L79.75,254.34 L80.00,254.32 L80.25,254.31 L80.50,254.31 L80.75,254.30 L81.00,254.29 L81.25,254.28 L81.50,254.27 L81.75,254.27 L82.00,254.26 L82.25,254.25 L82.50,254.24 L82.75,254.23 L83.00,254.23 L83.25,254.22 L83.50,254.21 L83.75,254.20 L84.00,254.19 L84.25,254.19 L84.50,254.18 L84.75,254.17 L85.00,254.16 L85.25,254.16 L85.50,254.15 L85.75,254.14 L86.00,254.13 L86.25,254.12 L86.50,254.12 L86.75,254.11 L87.00,254.10 L87.25,254.09 L87.50,254.08 L87.75,254.08 L88.00,254.07 L88.25,254.06 L88.50,254.05 L88.75,254.04 L89.00,254.04 L89.25,254.03 L89.50,254.02 L89.75,254.01 L90.00,254.00 L90.25,254.00 L90.50,253.99 L90.75,253.98 L91.00,253.97 L91.25,253.96 L91.50,253.96 L91.75,253.95 L92.00,253.94 L92.25,253.93 L92.50,253.92 L92.75,253.92 L93.00,253.91 L93.25,253.90 L93.50,253.89 L93.75,253.88 L94.00,253.88 L94.25,253.87 L94.50,253.86 L94.75,253.85 L95.00,253.85 L95.25,253.84 L95.50,253.83 L95.75,253.82 L96.00,253.81 L96.25,253.81 L96.50,253.80 L96.75,253.79 L97.00,253.78 L97.25,253.77 L97.50,253.77 L97.75,253.76 L98.00,253.75 L98.25,253.74 L98.50,253.73 L98.75,253.73 L99.00,253.72 L99.25,253.71 L99.50,253.70 L99.75,253.69 L100.00,253.68 L100.25,253.68 L100.50,253.67 L100.75,253.67 L101.00,253.66 L101.25,253.66 L101.50,253.65 L101.75,253.65 L102.00,253.64 L102.25,253.64 L102.50,253.63 L102.75,253.63 L103.00,253.62 L103.25,253.62 L103.50,253.61 L103.75,253.61 L104.00,253.60 L104.25,253.60 L104.50,253.59 L104.75,253.59 L105.00,253.58 L105.25,253.58 L105.50,253.57 L105.75,253.56 L106.00,253.56 L106.25,253.55 L106.50,253.55 L106.75,253.54 L107.00,253.54 L107.25,253.53 L107.50,253.53 L107.75,253.52 L108.00,253.52 L108.25,253.51 L108.50,253.50 L108.75,253.50 L109.00,253.49 L109.25,253.49 L109.50,253.48 L109.75,253.48 L110.00,253.47 L110.25,253.46 L110.50,253.46 L110.75,253.45 L111.00,253.45 L111.25,253.44 L111.50,253.43 L111.75,253.43 L112.00,253.42 L112.25,253.42 L112.50,253.41 L112.75,253.40 L113.00,253.40 L113.25,253.39 L113.50,253.38 L113.75,253.37 L114.00,253.37 L114.25,253.36 L114.50,253.35 L114.75,253.34 L115.00,253.33 L115.25,253.35 L115.50,253.36 L115.75,253.37 L116.00,253.38 L116.25,253.39 L116.50,253.40 L116.75,253.41 L117.00,253.42 L117.25,253.43 L117.50,253.43 L117.75,253.43 L118.00,253.43 L118.25,253.42 L118.50,253.40 L118.75,253.37 L119.00,253.30 L119.25,253.20 L119.50,253.04 L119.75,252.79 L120.00,252.44 L120.25,251.96 L120.50,251.37 L120.75,250.71 L121.00,250.03 L121.25,249.47 L121.50,249.17 L121.75,249.22 L122.00,249.63 L122.25,250.25 L122.50,250.97 L122.75,251.66 L123.00,252.26 L123.25,252.75 L123.50,253.11 L123.75,253.38 L124.00,253.56 L124.25,253.69 L124.50,253.78 L124.75,253.84 L125.00,253.89 L125.25,253.92 L125.50,253.94 L125.75,253.95 L126.00,253.97 L126.25,253.98 L126.50,253.99 L126.75,254.00 L127.00,254.00 L127.25,254.01 L127.50,254.01 L127.75,254.02 L128.00,254.02 L128.25,254.03 L128.50,254.03 L128.75,254.03 L129.00,254.04 L129.25,254.04 L129.50,254.04 L129.75,254.04 L130.00,254.05 L130.25,254.05 L130.50,254.05 L130.75,254.05 L131.00,254.05 L131.25,254.05 L131.50,254.05 L131.75,254.05 L132.00,254.06 L132.25,254.06 L132.50,254.06 L132.75,254.06 L133.00,254.06 L133.25,254.06 L133.50,254.06 L133.75,254.06 L134.00,254.06 L134.25,254.06 L134.50,254.06 L134.75,254.06 L135.00,254.06 L135.25,254.06 L135.50,254.06 L135.75,254.06 L136.00,254.06 L136.25,254.06 L136.50,254.06 L136.75,254.06 L137.00,254.06 L137.25,254.06 L137.50,254.06 L137.75,254.06 L138.00,254.06 L138.25,254.06 L138.50,254.06 L138.75,254.06 L139.00,254.06 L139.25,254.06 L139.50,254.06 L139.75,254.06 L140.00,254.06 L140.25,254.06 L140.50,254.06 L140.75,254.06 L141.00,254.06 L141.25,254.06 L141.50,254.06 L141.75,254.06 L142.00,254.06 L142.25,254.06 L142.50,254.06 L142.75,254.06 L143.00,254.06 L143.25,254.06 L143.50,254.05 L143.75,254.05 L144.00,254.05 L144.25,254.05 L144.50,254.05 L144.75,254.05 L145.00,254.05 L145.25,254.05 L145.50,254.05 L145.75,254.05 L146.00,254.05 L146.25,254.05 L146.50,254.05 L146.75,254.05 L147.00,254.05 L147.25,254.04 L147.50,254.04 L147.75,254.04 L148.00,254.04 L148.25,254.04 L148.50,254.04 L148.75,254.04 L149.00,254.04 L149.25,254.04 L149.50,254.04 L149.75,254.03 L150.00,254.03 L150.25,254.03 L150.50,254.03 L150.75,254.03 L151.00,254.03 L151.25,254.03 L151.50,254.02 L151.75,254.02 L152.00,254.02 L152.25,254.02 L152.50,254.02 L152.75,254.01 L153.00,254.01 L153.25,254.01 L153.50,254.01 L153.75,254.00 L154.00,254.00 L154.25,254.00 L154.50,253.99 L154.75,253.99 L155.00,253.99 L155.25,253.98 L155.50,253.98 L155.75,253.97 L156.00,253.97 L156.25,253.96 L156.50,253.96 L156.75,253.95 L157.00,253.94 L157.25,253.94 L157.50,253.93 L157.75,253.92 L158.00,253.91 L158.25,253.90 L158.50,253.89 L158.75,253.88 L159.00,253.87 L159.25,253.85 L159.50,253.83 L159.75,253.81 L160.00,253.79 L160.25,253.77 L160.50,253.74 L160.75,253.71 L161.00,253.68 L161.25,253.64 L161.50,253.59 L161.75,253.53 L162.00,253.46 L162.25,253.38 L162.50,253.26 L162.75,253.10 L163.00,252.86 L163.25,252.49 L163.50,251.91 L163.75,251.01 L164.00,249.72 L164.25,247.96 L164.50,245.77 L164.75,243.28 L165.00,240.82 L165.25,238.91 L165.50,238.14 L165.75,238.77 L166.00,240.51 L166.25,242.74 L166.50,244.89 L166.75,246.55 L167.00,247.49 L167.25,247.60 L167.50,246.92 L167.75,245.64 L168.00,244.09 L168.25,242.79 L168.50,242.34 L168.75,243.05 L169.00,244.64 L169.25,246.61 L169.50,248.51 L169.75,250.10 L170.00,251.29 L170.25,252.12 L170.50,252.64 L170.75,252.97 L171.00,253.17 L171.25,253.30 L171.50,253.38 L171.75,253.43 L172.00,253.45 L172.25,253.45 L172.50,253.42 L172.75,253.36 L173.00,253.28 L173.25,253.18 L173.50,253.08 L173.75,253.01 L174.00,252.99 L174.25,253.04 L174.50,253.14 L174.75,253.27 L175.00,253.40 L175.25,253.52 L175.50,253.61 L175.75,253.69 L176.00,253.74 L176.25,253.78 L176.50,253.80 L176.75,253.82 L177.00,253.83 L177.25,253.84 L177.50,253.84 L177.75,253.85 L178.00,253.85 L178.25,253.85 L178.50,253.85 L178.75,253.85 L179.00,253.85 L179.25,253.85 L179.50,253.85 L179.75,253.85 L180.00,253.85 L180.25,253.84 L180.50,253.84 L180.75,253.83 L181.00,253.83 L181.25,253.82 L181.50,253.82 L181.75,253.81 L182.00,253.80 L182.25,253.79 L182.50,253.78 L182.75,253.77 L183.00,253.76 L183.25,253.75 L183.50,253.73 L183.75,253.72 L184.00,253.70 L184.25,253.68 L184.50,253.66 L184.75,253.64 L185.00,253.62 L185.25,253.59 L185.50,253.56 L185.75,253.53 L186.00,253.49 L186.25,253.45 L186.50,253.40 L186.75,253.35 L187.00,253.29 L187.25,253.22 L187.50,253.14 L187.75,253.05 L188.00,252.93 L188.25,252.79 L188.50,252.60 L188.75,252.35 L189.00,252.00 L189.25,251.51 L189.50,250.81 L189.75,249.82 L190.00,248.44 L190.25,246.56 L190.50,244.06 L190.75,240.80 L191.00,236.65 L191.25,231.38 L191.50,224.60 L191.75,215.59 L192.00,203.34 L192.25,187.00 L192.50,168.14 L192.75,155.84 L193.00,161.61 L193.25,179.47 L193.50,197.30 L193.75,211.13 L194.00,221.31 L194.25,228.87 L194.50,234.68 L194.75,239.25 L195.00,242.84 L195.25,245.63 L195.50,247.74 L195.75,249.30 L196.00,250.43 L196.25,251.23 L196.50,251.80 L196.75,252.19 L197.00,252.48 L197.25,252.69 L197.50,252.84 L197.75,252.97 L198.00,253.07 L198.25,253.15 L198.50,253.22 L198.75,253.28 L199.00,253.33 L199.25,253.38 L199.50,253.42 L199.75,253.45 L200.00,253.49 L200.25,253.51 L200.50,253.54 L200.75,253.56 L201.00,253.58 L201.25,253.60 L201.50,253.61 L201.75,253.63 L202.00,253.64 L202.25,253.65 L202.50,253.66 L202.75,253.66 L203.00,253.67 L203.25,253.67 L203.50,253.67 L203.75,253.68 L204.00,253.68 L204.25,253.68 L204.50,253.67 L204.75,253.67 L205.00,253.67 L205.25,253.67 L205.50,253.68 L205.75,253.69 L206.00,253.69 L206.25,253.69 L206.50,253.70 L206.75,253.69 L207.00,253.69 L207.25,253.68 L207.50,253.67 L207.75,253.66 L208.00,253.64 L208.25,253.62 L208.50,253.59 L208.75,253.56 L209.00,253.52 L209.25,253.47 L209.50,253.40 L209.75,253.32 L210.00,253.21 L210.25,253.05 L210.50,252.84 L210.75,252.55 L211.00,252.12 L211.25,251.52 L211.50,250.67 L211.75,249.49 L212.00,247.91 L212.25,245.84 L212.50,243.15 L212.75,239.71 L213.00,235.28 L213.25,229.47 L213.50,221.75 L213.75,211.64 L214.00,199.57 L214.25,189.29 L214.50,188.13 L214.75,197.20 L215.00,209.40 L215.25,220.03 L215.50,228.23 L215.75,234.40 L216.00,239.10 L216.25,242.75 L216.50,245.60 L216.75,247.82 L217.00,249.52 L217.25,250.80 L217.50,251.74 L217.75,252.41 L218.00,252.90 L218.25,253.25 L218.50,253.51 L218.75,253.70 L219.00,253.85 L219.25,253.96 L219.50,254.06 L219.75,254.15 L220.00,254.22 L220.25,254.28 L220.50,254.34 L220.75,254.39 L221.00,254.44 L221.25,254.48 L221.50,254.52 L221.75,254.56 L222.00,254.59 L222.25,254.62 L222.50,254.65 L222.75,254.68 L223.00,254.70 L223.25,254.72 L223.50,254.74 L223.75,254.76 L224.00,254.78 L224.25,254.79 L224.50,254.81 L224.75,254.82 L225.00,254.83 L225.25,254.83 L225.50,254.83 L225.75,254.83 L226.00,254.83 L226.25,254.82 L226.50,254.82 L226.75,254.80 L227.00,254.79 L227.25,254.77 L227.50,254.74 L227.75,254.71 L228.00,254.67 L228.25,254.63 L228.50,254.57 L228.75,254.50 L229.00,254.41 L229.25,254.28 L229.50,254.12 L229.75,253.88 L230.00,253.52 L230.25,252.98 L230.50,252.18 L230.75,251.03 L231.00,249.44 L231.25,247.33 L231.50,244.71 L231.75,241.66 L232.00,238.41 L232.25,235.33 L232.50,232.95 L232.75,231.84 L233.00,232.33 L233.25,234.27 L233.50,237.15 L233.75,240.39 L234.00,243.55 L234.25,246.36 L234.50,248.68 L234.75,250.48 L235.00,251.79 L235.25,252.71 L235.50,253.33 L235.75,253.73 L236.00,253.99 L236.25,254.15 L236.50,254.24 L236.75,254.28 L237.00,254.26 L237.25,254.17 L237.50,253.97 L237.75,253.62 L238.00,253.04 L238.25,252.14 L238.50,250.84 L238.75,249.10 L239.00,246.97 L239.25,244.61 L239.50,242.33 L239.75,240.61 L240.00,239.96 L240.25,240.64 L240.50,242.41 L240.75,244.72 L241.00,247.11 L241.25,249.25 L241.50,250.98 L241.75,252.25 L242.00,253.07 L242.25,253.52 L242.50,253.68 L242.75,253.63 L243.00,253.47 L243.25,253.28 L243.50,253.15 L243.75,253.17 L244.00,253.38 L244.25,253.72 L244.50,254.12 L244.75,254.52 L245.00,254.87 L245.25,255.16 L245.50,255.38 L245.75,255.54 L246.00,255.66 L246.25,255.75 L246.50,255.81 L246.75,255.86 L247.00,255.90 L247.25,255.93 L247.50,255.96 L247.75,255.99 L248.00,256.02 L248.25,256.04 L248.50,256.06 L248.75,256.09 L249.00,256.11 L249.25,256.12 L249.50,256.14 L249.75,256.16 L250.00,256.18 L250.25,256.18 L250.50,256.19 L250.75,256.19 L251.00,256.19 L251.25,256.19 L251.50,256.20 L251.75,256.20 L252.00,256.20 L252.25,256.20 L252.50,256.20 L252.75,256.20 L253.00,256.20 L253.25,256.19 L253.50,256.19 L253.75,256.19 L254.00,256.19 L254.25,256.18 L254.50,256.18 L254.75,256.18 L255.00,256.17 L255.25,256.16 L255.50,256.16 L255.75,256.15 L256.00,256.14 L256.25,256.13 L256.50,256.12 L256.75,256.10 L257.00,256.09 L257.25,256.07 L257.50,256.04 L257.75,256.01 L258.00,255.97 L258.25,255.92 L258.50,255.85 L258.75,255.74 L259.00,255.58 L259.25,255.35 L259.50,255.02 L259.75,254.56 L260.00,253.96 L260.25,253.24 L260.50,252.40 L260.75,251.53 L261.00,250.73 L261.25,250.14 L261.50,249.93 L261.75,250.14 L262.00,250.71 L262.25,251.51 L262.50,252.38 L262.75,253.20 L263.00,253.92 L263.25,254.51 L263.50,254.96 L263.75,255.28 L264.00,255.50 L264.25,255.65 L264.50,255.74 L264.75,255.80 L265.00,255.82 L265.25,255.82 L265.50,255.79 L265.75,255.72 L266.00,255.62 L266.25,255.46 L266.50,255.27 L266.75,255.03 L267.00,254.79 L267.25,254.59 L267.50,254.47 L267.75,254.48 L268.00,254.62 L268.25,254.84 L268.50,255.08 L268.75,255.31 L269.00,255.50 L269.25,255.65 L269.50,255.75 L269.75,255.81 L270.00,255.85 L270.25,255.86 L270.50,255.87 L270.75,255.86 L271.00,255.84 L271.25,255.82 L271.50,255.79 L271.75,255.75 L272.00,255.70 L272.25,255.64 L272.50,255.57 L272.75,255.47 L273.00,255.32 L273.25,255.10 L273.50,254.77 L273.75,254.27 L274.00,253.52 L274.25,252.47 L274.50,251.06 L274.75,249.31 L275.00,247.29 L275.25,245.20 L275.50,243.36 L275.75,242.19 L276.00,242.04 L276.25,242.96 L276.50,244.62 L276.75,246.58 L277.00,248.49 L277.25,250.11 L277.50,251.30 L277.75,252.01 L278.00,252.27 L278.25,252.12 L278.50,251.64 L278.75,250.93 L279.00,250.12 L279.25,249.37 L279.50,248.88 L279.75,248.79 L280.00,249.17 L280.25,249.92 L280.50,250.87 L280.75,251.87 L281.00,252.79 L281.25,253.60 L281.50,254.24 L281.75,254.74 L282.00,255.09 L282.25,255.35 L282.50,255.52 L282.75,255.64 L283.00,255.72 L283.25,255.78 L283.50,255.83 L283.75,255.87 L284.00,255.90 L284.25,255.92 L284.50,255.94 L284.75,255.96 L285.00,255.98 L285.25,255.99 L285.50,256.01 L285.75,256.02 L286.00,256.03 L286.25,256.04 L286.50,256.05 L286.75,256.05 L287.00,256.06 L287.25,256.06 L287.50,256.07 L287.75,256.07 L288.00,256.08 L288.25,256.08 L288.50,256.08 L288.75,256.09 L289.00,256.09 L289.25,256.09 L289.50,256.09 L289.75,256.10 L290.00,256.10 L290.25,256.10 L290.50,256.10 L290.75,256.10 L291.00,256.10 L291.25,256.10 L291.50,256.10 L291.75,256.10 L292.00,256.10 L292.25,256.10 L292.50,256.09 L292.75,256.09 L293.00,256.09 L293.25,256.09 L293.50,256.09 L293.75,256.09 L294.00,256.08 L294.25,256.08 L294.50,256.08 L294.75,256.07 L295.00,256.07 L295.25,256.07 L295.50,256.06 L295.75,256.06 L296.00,256.05 L296.25,256.04 L296.50,256.04 L296.75,256.03 L297.00,256.02 L297.25,256.01 L297.50,256.00 L297.75,255.99 L298.00,255.97 L298.25,255.96 L298.50,255.94 L298.75,255.92 L299.00,255.90 L299.25,255.87 L299.50,255.84 L299.75,255.79 L300.00,255.73 L300.25,255.65 L300.50,255.53 L300.75,255.34 L301.00,255.06 L301.25,254.66 L301.50,254.09 L301.75,253.35 L302.00,252.43 L302.25,251.40 L302.50,250.36 L302.75,249.48 L303.00,248.98 L303.25,249.02 L303.50,249.56 L303.75,250.45 L304.00,251.44 L304.25,252.40 L304.50,253.21 L304.75,253.81 L305.00,254.20 L305.25,254.36 L305.50,254.30 L305.75,254.01 L306.00,253.51 L306.25,252.79 L306.50,251.91 L306.75,250.93 L307.00,250.00 L307.25,249.31 L307.50,249.06 L307.75,249.34 L308.00,250.06 L308.25,251.03 L308.50,252.04 L308.75,252.98 L309.00,253.76 L309.25,254.38 L309.50,254.82 L309.75,255.13 L310.00,255.34 L310.25,255.47 L310.50,255.56 L310.75,255.62 L311.00,255.66 L311.25,255.69 L311.50,255.72 L311.75,255.74 L312.00,255.75 L312.25,255.77 L312.50,255.78 L312.75,255.79 L313.00,255.79 L313.25,255.80 L313.50,255.80 L313.75,255.81 L314.00,255.81 L314.25,255.81 L314.50,255.81 L314.75,255.82 L315.00,255.82 L315.25,255.82 L315.50,255.81 L315.75,255.81 L316.00,255.81 L316.25,255.81 L316.50,255.81 L316.75,255.81 L317.00,255.80 L317.25,255.80 L317.50,255.80 L317.75,255.79 L318.00,255.79 L318.25,255.78 L318.50,255.78 L318.75,255.78 L319.00,255.77 L319.25,255.77 L319.50,255.76 L319.75,255.75 L320.00,255.75 L320.25,255.74 L320.50,255.74 L320.75,255.73 L321.00,255.72 L321.25,255.72 L321.50,255.71 L321.75,255.70 L322.00,255.69 L322.25,255.68 L322.50,255.67 L322.75,255.66 L323.00,255.65 L323.25,255.64 L323.50,255.63 L323.75,255.62 L324.00,255.61 L324.25,255.60 L324.50,255.58 L324.75,255.57 L325.00,255.55 L325.25,255.53 L325.50,255.51 L325.75,255.49 L326.00,255.47 L326.25,255.45 L326.50,255.42 L326.75,255.39 L327.00,255.36 L327.25,255.32 L327.50,255.28 L327.75,255.24 L328.00,255.18 L328.25,255.12 L328.50,255.06 L328.75,254.97 L329.00,254.87 L329.25,254.74 L329.50,254.57 L329.75,254.31 L330.00,253.93 L330.25,253.36 L330.50,252.51 L330.75,251.28 L331.00,249.61 L331.25,247.46 L331.50,244.91 L331.75,242.14 L332.00,239.50 L332.25,237.53 L332.50,236.77 L332.75,237.45 L333.00,239.35 L333.25,241.90 L333.50,244.58 L333.75,247.04 L334.00,249.09 L334.25,250.65 L334.50,251.74 L334.75,252.43 L335.00,252.79 L335.25,252.88 L335.50,252.71 L335.75,252.24 L336.00,251.39 L336.25,250.06 L336.50,248.13 L336.75,245.55 L337.00,242.39 L337.25,238.88 L337.50,235.46 L337.75,232.84 L338.00,231.77 L338.25,232.56 L338.50,234.84 L338.75,237.79 L339.00,240.64 L339.25,242.87 L339.50,244.23 L339.75,244.64 L340.00,244.24 L340.25,243.32 L340.50,242.30 L340.75,241.66 L341.00,241.81 L341.25,242.83 L341.50,244.48 L341.75,246.39 L342.00,248.26 L342.25,249.89 L342.50,251.20 L342.75,252.15 L343.00,252.76 L343.25,253.07 L343.50,253.11 L343.75,252.93 L344.00,252.54 L344.25,251.99 L344.50,251.34 L344.75,250.69 L345.00,250.18 L345.25,249.95 L345.50,250.11 L345.75,250.62 L346.00,251.33 L346.25,252.10 L346.50,252.82 L346.75,253.44 L347.00,253.93 L347.25,254.30 L347.50,254.56 L347.75,254.73 L348.00,254.85 L348.25,254.93 L348.50,254.98 L348.75,255.02 L349.00,255.06 L349.25,255.08 L349.50,255.10 L349.75,255.12 L350.00,255.13 L350.25,255.15 L350.50,255.17 L350.75,255.18 L351.00,255.19 L351.25,255.21 L351.50,255.22 L351.75,255.23 L352.00,255.23 L352.25,255.24 L352.50,255.25 L352.75,255.26 L353.00,255.26 L353.25,255.27 L353.50,255.27 L353.75,255.27 L354.00,255.28 L354.25,255.28 L354.50,255.28 L354.75,255.28 L355.00,255.28 L355.25,255.28 L355.50,255.28 L355.75,255.28 L356.00,255.28 L356.25,255.28 L356.50,255.28 L356.75,255.27 L357.00,255.27 L357.25,255.26 L357.50,255.26 L357.75,255.25 L358.00,255.24 L358.25,255.23 L358.50,255.21 L358.75,255.20 L359.00,255.18 L359.25,255.16 L359.50,255.14 L359.75,255.12 L360.00,255.08 L360.25,255.05 L360.50,255.00 L360.75,254.94 L361.00,254.87 L361.25,254.76 L361.50,254.62 L361.75,254.41 L362.00,254.10 L362.25,253.66 L362.50,253.06 L362.75,252.25 L363.00,251.23 L363.25,249.99 L363.50,248.58 L363.75,247.09 L364.00,245.68 L364.25,244.56 L364.50,243.95 L364.75,244.01 L365.00,244.73 L365.25,245.92 L365.50,247.35 L365.75,248.82 L366.00,250.18 L366.25,251.37 L366.50,252.34 L366.75,253.08 L367.00,253.63 L367.25,254.02 L367.50,254.29 L367.75,254.46 L368.00,254.57 L368.25,254.64 L368.50,254.67 L368.75,254.69 L369.00,254.68 L369.25,254.66 L369.50,254.62 L369.75,254.55 L370.00,254.45 L370.25,254.30 L370.50,254.07 L370.75,253.73 L371.00,253.24 L371.25,252.55 L371.50,251.62 L371.75,250.42 L372.00,248.95 L372.25,247.26 L372.50,245.43 L372.75,243.65 L373.00,242.14 L373.25,241.19 L373.50,240.99 L373.75,241.56 L374.00,242.67 L374.25,244.02 L374.50,245.32 L374.75,246.36 L375.00,247.03 L375.25,247.31 L375.50,247.26 L375.75,247.01 L376.00,246.78 L376.25,246.80 L376.50,247.21 L376.75,248.01 L377.00,249.05 L377.25,250.17 L377.50,251.24 L377.75,252.19 L378.00,252.97 L378.25,253.58 L378.50,254.03 L378.75,254.35 L379.00,254.57 L379.25,254.72 L379.50,254.82 L379.75,254.89 L380.00,254.93 L380.25,254.96 L380.50,254.98 L380.75,254.98 L381.00,254.97 L381.25,254.95 L381.50,254.89 L381.75,254.80 L382.00,254.66 L382.25,254.45 L382.50,254.14 L382.75,253.71 L383.00,253.15 L383.25,252.46 L383.50,251.65 L383.75,250.76 L384.00,249.88 L384.25,249.11 L384.50,248.61 L384.75,248.48 L385.00,248.77 L385.25,249.40 L385.50,250.22 L385.75,251.12 L386.00,251.98 L386.25,252.74 L386.50,253.37 L386.75,253.85 L387.00,254.19 L387.25,254.40 L387.50,254.49 L387.75,254.47 L388.00,254.34 L388.25,254.11 L388.50,253.78 L388.75,253.36 L389.00,252.86 L389.25,252.33 L389.50,251.83 L389.75,251.43 L390.00,251.22 L390.25,251.26 L390.50,251.55 L390.75,252.01 L391.00,252.55 L391.25,253.11 L391.50,253.64 L391.75,254.09 L392.00,254.46 L392.25,254.75 L392.50,254.97 L392.75,255.12 L393.00,255.23 L393.25,255.30 L393.50,255.36 L393.75,255.39 L394.00,255.42 L394.25,255.44 L394.50,255.45 L394.75,255.46 L395.00,255.47 L395.25,255.47 L395.50,255.47 L395.75,255.47 L396.00,255.47 L396.25,255.46 L396.50,255.45 L396.75,255.44 L397.00,255.43 L397.25,255.41 L397.50,255.38 L397.75,255.35 L398.00,255.32 L398.25,255.27 L398.50,255.21 L398.75,255.12 L399.00,255.00 L399.25,254.84 L399.50,254.61 L399.75,254.29 L400.00,253.86 L400.25,253.30 L400.50,252.59 L400.75,251.72 L401.00,250.70 L401.25,249.57 L401.50,248.38 L401.75,247.22 L402.00,246.23 L402.25,245.55 L402.50,245.31 L402.75,245.56 L403.00,246.25 L403.25,247.25 L403.50,248.41 L403.75,249.60 L404.00,250.74 L404.25,251.77 L404.50,252.65 L404.75,253.36 L405.00,253.93 L405.25,254.36 L405.50,254.68 L405.75,254.91 L406.00,255.07 L406.25,255.19 L406.50,255.27 L406.75,255.33 L407.00,255.37 L407.25,255.40 L407.50,255.41 L407.75,255.41 L408.00,255.39 L408.25,255.36 L408.50,255.29 L408.75,255.17 L409.00,254.98 L409.25,254.72 L409.50,254.34 L409.75,253.86 L410.00,253.27 L410.25,252.60 L410.50,251.92 L410.75,251.31 L411.00,250.89 L411.25,250.78 L411.50,251.01 L411.75,251.49 L412.00,252.12 L412.25,252.76 L412.50,253.34 L412.75,253.79 L413.00,254.07 L413.25,254.17 L413.50,254.08 L413.75,253.81 L414.00,253.37 L414.25,252.81 L414.50,252.17 L414.75,251.56 L415.00,251.08 L415.25,250.87 L415.50,250.99 L415.75,251.41 L416.00,252.03 L416.25,252.73 L416.50,253.40 L416.75,254.00 L417.00,254.49 L417.25,254.87 L417.50,255.14 L417.75,255.33 L418.00,255.44 L418.25,255.51 L418.50,255.54 L418.75,255.53 L419.00,255.49 L419.25,255.40 L419.50,255.26 L419.75,255.04 L420.00,254.72 L420.25,254.27 L420.50,253.66 L420.75,252.88 L421.00,251.96 L421.25,250.91 L421.50,249.83 L421.75,248.83 L422.00,248.08 L422.25,247.73 L422.50,247.90 L422.75,248.52 L423.00,249.47 L423.25,250.55 L423.50,251.64 L423.75,252.65 L424.00,253.51 L424.25,254.20 L424.50,254.74 L424.75,255.14 L425.00,255.42 L425.25,255.62 L425.50,255.76 L425.75,255.86 L426.00,255.93 L426.25,255.98 L426.50,256.02 L426.75,256.05 L427.00,256.07 L427.25,256.09 L427.50,256.11 L427.75,256.11 L428.00,256.11 L428.25,256.10 L428.50,256.07 L428.75,256.02 L429.00,255.94 L429.25,255.82 L429.50,255.64 L429.75,255.40 L430.00,255.10 L430.25,254.75 L430.50,254.37 L430.75,254.01 L431.00,253.74 L431.25,253.61 L431.50,253.68 L431.75,253.91 L432.00,254.26 L432.25,254.65 L432.50,255.03 L432.75,255.37 L433.00,255.65 L433.25,255.87 L433.50,256.03 L433.75,256.14 L434.00,256.21 L434.25,256.27 L434.50,256.30 L434.75,256.32 L435.00,256.33 L435.25,256.34 L435.50,256.35 L435.75,256.35 L436.00,256.34 L436.25,256.33 L436.50,256.32 L436.75,256.30 L437.00,256.27 L437.25,256.23 L437.50,256.17 L437.75,256.08 L438.00,255.95 L438.25,255.77 L438.50,255.50 L438.75,255.14 L439.00,254.67 L439.25,254.07 L439.50,253.34 L439.75,252.51 L440.00,251.62 L440.25,250.74 L440.50,249.96 L440.75,249.42 L441.00,249.23 L441.25,249.44 L441.50,249.99 L441.75,250.78 L442.00,251.68 L442.25,252.58 L442.50,253.43 L442.75,254.17 L443.00,254.78 L443.25,255.27 L443.50,255.64 L443.75,255.92 L444.00,256.12 L444.25,256.27 L444.50,256.37 L444.75,256.45 L445.00,256.51 L445.25,256.55 L445.50,256.59 L445.75,256.62 L446.00,256.65 L446.25,256.67 L446.50,256.69 L446.75,256.71 L447.00,256.73 L447.25,256.75 L447.50,256.77 L447.75,256.78 L448.00,256.79 L448.25,256.81 L448.50,256.82 L448.75,256.83 L449.00,256.84 L449.25,256.85 L449.50,256.86 L449.75,256.87 L450.00,256.88 L450.25,256.89 L450.50,256.89 L450.75,256.89 L451.00,256.90 L451.25,256.90 L451.50,256.91 L451.75,256.91 L452.00,256.91 L452.25,256.91 L452.50,256.92 L452.75,256.92 L453.00,256.92 L453.25,256.92 L453.50,256.93 L453.75,256.93 L454.00,256.93 L454.25,256.93 L454.50,256.93 L454.75,256.93 L455.00,256.93 L455.25,256.93 L455.50,256.93 L455.75,256.93 L456.00,256.93 L456.25,256.93 L456.50,256.93 L456.75,256.93 L457.00,256.93 L457.25,256.93 L457.50,256.92 L457.75,256.92 L458.00,256.91 L458.25,256.91 L458.50,256.90 L458.75,256.89 L459.00,256.87 L459.25,256.85 L459.50,256.81 L459.75,256.77 L460.00,256.70 L460.25,256.60 L460.50,256.46 L460.75,256.28 L461.00,256.06 L461.25,255.80 L461.50,255.51 L461.75,255.21 L462.00,254.94 L462.25,254.75 L462.50,254.68 L462.75,254.75 L463.00,254.93 L463.25,255.18 L463.50,255.46 L463.75,255.73 L464.00,255.96 L464.25,256.14 L464.50,256.26 L464.75,256.32 L465.00,256.33 L465.25,256.30 L465.50,256.24 L465.75,256.18 L466.00,256.13 L466.25,256.11 L466.50,256.14 L466.75,256.20 L467.00,256.29 L467.25,256.39 L467.50,256.49 L467.75,256.57 L468.00,256.63 L468.25,256.66 L468.50,256.67 L468.75,256.65 L469.00,256.60 L469.25,256.52 L469.50,256.42 L469.75,256.32 L470.00,256.21 L470.25,256.13 L470.50,256.08 L470.75,256.09 L471.00,256.15 L471.25,256.24 L471.50,256.35 L471.75,256.46 L472.00,256.57 L472.25,256.66 L472.50,256.73 L472.75,256.78 L473.00,256.81 L473.25,256.83 L473.50,256.83 L473.75,256.82 L474.00,256.80 L474.25,256.76 L474.50,256.69 L474.75,256.59 L475.00,256.44 L475.25,256.24 L475.50,255.95 L475.75,255.59 L476.00,255.15 L476.25,254.63 L476.50,254.08 L476.75,253.55 L477.00,253.10 L477.25,252.83 L477.50,252.81 L477.75,253.03 L478.00,253.45 L478.25,253.98 L478.50,254.53 L478.75,255.05 L479.00,255.51 L479.25,255.89 L479.50,256.18 L479.75,256.40 L480.00,256.55 L480.25,256.64 L480.50,256.69 L480.75,256.70 L481.00,256.68 L481.25,256.63 L481.50,256.56 L481.75,256.46 L482.00,256.34 L482.25,256.23 L482.50,256.12 L482.75,256.04 L483.00,256.01 L483.25,256.04 L483.50,256.11 L483.75,256.20 L484.00,256.30 L484.25,256.38 L484.50,256.43 L484.75,256.44 L485.00,256.40 L485.25,256.33 L485.50,256.23 L485.75,256.11 L486.00,255.99 L486.25,255.91 L486.50,255.89 L486.75,255.94 L487.00,256.04 L487.25,256.19 L487.50,256.35 L487.75,256.50 L488.00,256.65 L488.25,256.77 L488.50,256.86 L488.75,256.94 L489.00,256.99 L489.25,257.03 L489.50,257.06 L489.75,257.08 L490.00,257.09 L490.25,257.10 L490.50,257.11 L490.75,257.11 L491.00,257.12 L491.25,257.12 L491.50,257.13 L491.75,257.13 L492.00,257.13 L492.25,257.13 L492.50,257.13 L492.75,257.13 L493.00,257.13 L493.25,257.12 L493.50,257.12 L493.75,257.11 L494.00,257.09 L494.25,257.07 L494.50,257.04 L494.75,257.00 L495.00,256.94 L495.25,256.86 L495.50,256.76 L495.75,256.64 L496.00,256.52 L496.25,256.38 L496.50,256.27 L496.75,256.18 L497.00,256.15 L497.25,256.17 L497.50,256.24 L497.75,256.35 L498.00,256.47 L498.25,256.58 L498.50,256.68 L498.75,256.76 L499.00,256.81 L499.25,256.84 L499.50,256.83 L499.75,256.80 L500.00,256.72 L500.25,256.61 L500.50,256.45 L500.75,256.23 L501.00,255.95 L501.25,255.61 L501.50,255.20 L501.75,254.75 L502.00,254.28 L502.25,253.82 L502.50,253.42 L502.75,253.15 L503.00,253.05 L503.25,253.15 L503.50,253.43 L503.75,253.83 L504.00,254.29 L504.25,254.77 L504.50,255.23 L504.75,255.64 L505.00,255.99 L505.25,256.27 L505.50,256.50 L505.75,256.67 L506.00,256.80 L506.25,256.89 L506.50,256.96 L506.75,257.00 L507.00,257.04 L507.25,257.06 L507.50,257.08 L507.75,257.09 L508.00,257.09 L508.25,257.10 L508.50,257.09 L508.75,257.08 L509.00,257.06 L509.25,257.02 L509.50,256.97 L509.75,256.89 L510.00,256.78 L510.25,256.63 L510.50,256.44 L510.75,256.21 L511.00,255.96 L511.25,255.71 L511.50,255.48 L511.75,255.32 L512.00,255.26 L512.25,255.32 L512.50,255.48 L512.75,255.71 L513.00,255.97 L513.25,256.22 L513.50,256.44 L513.75,256.63 L514.00,256.78 L514.25,256.89 L514.50,256.97 L514.75,257.01 L515.00,257.03 L515.25,257.02 L515.50,256.99 L515.75,256.92 L516.00,256.83 L516.25,256.70 L516.50,256.53 L516.75,256.33 L517.00,256.11 L517.25,255.88 L517.50,255.68 L517.75,255.53 L518.00,255.48 L518.25,255.53 L518.50,255.68 L518.75,255.88 L519.00,256.10 L519.25,256.32 L519.50,256.52 L519.75,256.68 L520.00,256.79 L520.25,256.86 L520.50,256.88 L520.75,256.86 L521.00,256.79 L521.25,256.68 L521.50,256.53 L521.75,256.33 L522.00,256.12 L522.25,255.89 L522.50,255.69 L522.75,255.54 L523.00,255.49 L523.25,255.54 L523.50,255.69 L523.75,255.89 L524.00,256.12 L524.25,256.33 L524.50,256.52 L524.75,256.67 L525.00,256.78 L525.25,256.83 L525.50,256.84 L525.75,256.78 L526.00,256.67 L526.25,256.50 L526.50,256.27 L526.75,255.99 L527.00,255.67 L527.25,255.35 L527.50,255.06 L527.75,254.85 L528.00,254.78 L528.25,254.87 L528.50,255.09 L528.75,255.39 L529.00,255.73 L529.25,256.06 L529.50,256.36 L529.75,256.62 L530.00,256.82 L530.25,256.98 L530.50,257.09 L530.75,257.18 L531.00,257.24 L531.25,257.28 L531.50,257.31 L531.75,257.33 L532.00,257.35 L532.25,257.36 L532.50,257.37 L532.75,257.38 L533.00,257.39 L533.25,257.40 L533.50,257.41 L533.75,257.41 L534.00,257.42 L534.25,257.43 L534.50,257.43 L534.75,257.44 L535.00,257.44" fill="none" stroke="#ff0000" stroke-width="2.4" stroke-linejoin="round"/>
<rect x="39.5" y="9.5" width="495.6" height="398.0" fill="none" stroke="#000" stroke-width="2.4"/>
<line x1="39.50" y1="407.5" x2="39.50" y2="416.7" stroke="#000" stroke-width="2.2"/>
<line x1="56.02" y1="407.5" x2="56.02" y2="412.4" stroke="#000" stroke-width="2.2"/>
<line x1="72.54" y1="407.5" x2="72.54" y2="416.7" stroke="#000" stroke-width="2.2"/>
<line x1="89.06" y1="407.5" x2="89.06" y2="412.4" stroke="#000" stroke-width="2.2"/>
<line x1="105.58" y1="407.5" x2="105.58" y2="416.7" stroke="#000" stroke-width="2.2"/>
<line x1="122.10" y1="407.5" x2="122.10" y2="412.4" stroke="#000" stroke-width="2.2"/>
<line x1="138.62" y1="407.5" x2="138.62" y2="416.7" stroke="#000" stroke-width="2.2"/>
<line x1="155.14" y1="407.5" x2="155.14" y2="412.4" stroke="#000" stroke-width="2.2"/>
<line x1="171.66" y1="407.5" x2="171.66" y2="416.7" stroke="#000" stroke-width="2.2"/>
<line x1="188.18" y1="407.5" x2="188.18" y2="412.4" stroke="#000" stroke-width="2.2"/>
<line x1="204.70" y1="407.5" x2="204.70" y2="416.7" stroke="#000" stroke-width="2.2"/>
<line x1="221.22" y1="407.5" x2="221.22" y2="412.4" stroke="#000" stroke-width="2.2"/>
<line x1="237.74" y1="407.5" x2="237.74" y2="416.7" stroke="#000" stroke-width="2.2"/>
<line x1="254.26" y1="407.5" x2="254.26" y2="412.4" stroke="#000" stroke-width="2.2"/>
<line x1="270.78" y1="407.5" x2="270.78" y2="416.7" stroke="#000" stroke-width="2.2"/>
<line x1="287.30" y1="407.5" x2="287.30" y2="412.4" stroke="#000" stroke-width="2.2"/>
<line x1="303.82" y1="407.5" x2="303.82" y2="416.7" stroke="#000" stroke-width="2.2"/>
<line x1="320.34" y1="407.5" x2="320.34" y2="412.4" stroke="#000" stroke-width="2.2"/>
<line x1="336.86" y1="407.5" x2="336.86" y2="416.7" stroke="#000" stroke-width="2.2"/>
<line x1="353.38" y1="407.5" x2="353.38" y2="412.4" stroke="#000" stroke-width="2.2"/>
<line x1="369.90" y1="407.5" x2="369.90" y2="416.7" stroke="#000" stroke-width="2.2"/>
<line x1="386.42" y1="407.5" x2="386.42" y2="412.4" stroke="#000" stroke-width="2.2"/>
<line x1="402.94" y1="407.5" x2="402.94" y2="416.7" stroke="#000" stroke-width="2.2"/>
<line x1="419.46" y1="407.5" x2="419.46" y2="412.4" stroke="#000" stroke-width="2.2"/>
<line x1="435.98" y1="407.5" x2="435.98" y2="416.7" stroke="#000" stroke-width="2.2"/>
<line x1="452.50" y1="407.5" x2="452.50" y2="412.4" stroke="#000" stroke-width="2.2"/>
<line x1="469.02" y1="407.5" x2="469.02" y2="416.7" stroke="#000" stroke-width="2.2"/>
<line x1="485.54" y1="407.5" x2="485.54" y2="412.4" stroke="#000" stroke-width="2.2"/>
<line x1="502.06" y1="407.5" x2="502.06" y2="416.7" stroke="#000" stroke-width="2.2"/>
<line x1="518.58" y1="407.5" x2="518.58" y2="412.4" stroke="#000" stroke-width="2.2"/>
<line x1="535.10" y1="407.5" x2="535.10" y2="416.7" stroke="#000" stroke-width="2.2"/>
<text x="39.50" y="433.7" text-anchor="middle" class="tk">5</text>
<text x="72.54" y="433.7" text-anchor="middle" class="tk">10</text>
<text x="105.58" y="433.7" text-anchor="middle" class="tk">15</text>
<text x="138.62" y="433.7" text-anchor="middle" class="tk">20</text>
<text x="171.66" y="433.7" text-anchor="middle" class="tk">25</text>
<text x="204.70" y="433.7" text-anchor="middle" class="tk">30</text>
<text x="237.74" y="433.7" text-anchor="middle" class="tk">35</text>
<text x="270.78" y="433.7" text-anchor="middle" class="tk">40</text>
<text x="303.82" y="433.7" text-anchor="middle" class="tk">45</text>
<text x="336.86" y="433.7" text-anchor="middle" class="tk">50</text>
<text x="369.90" y="433.7" text-anchor="middle" class="tk">55</text>
<text x="402.94" y="433.7" text-anchor="middle" class="tk">60</text>
<text x="435.98" y="433.7" text-anchor="middle" class="tk">65</text>
<text x="469.02" y="433.7" text-anchor="middle" class="tk">70</text>
<text x="502.06" y="433.7" text-anchor="middle" class="tk">75</text>
<text x="535.10" y="433.7" text-anchor="middle" class="tk">80</text>
<text x="531.0" y="88" text-anchor="end" class="lb" fill="#000" stroke="#000">Before modification</text>
<text x="531.2" y="232" text-anchor="end" class="lb" fill="#ff0000" stroke="#ff0000">After modification</text>
<text x="531.2" y="363.7" text-anchor="end" class="lb" fill="#0000ff" stroke="#0000ff">ZrO<tspan font-size="13" dy="5">2</tspan><tspan dy="-5"> PDF#86-1450</tspan></text>
<text x="229.5" y="451" class="ax" font-size="19.6" textLength="11.9" lengthAdjust="spacingAndGlyphs">2</text>
<text x="240.9" y="451" class="ax" font-size="19.6" style="font-weight:normal" stroke="#000" stroke-width="0.45" textLength="12.2" lengthAdjust="spacingAndGlyphs">θ</text>
<text x="260.6" y="451" class="ax" font-size="19.6" textLength="88.6" lengthAdjust="spacingAndGlyphs">(degree)</text>
<text transform="translate(23.6,273.6) rotate(-90)" class="ax" font-size="19.8" textLength="90" lengthAdjust="spacingAndGlyphs">Intensity</text>
<text transform="translate(23.6,180) rotate(-90)" class="ax" font-size="19.8" textLength="56" lengthAdjust="spacingAndGlyphs">(a.u.)</text>
</svg>
</body></html>
